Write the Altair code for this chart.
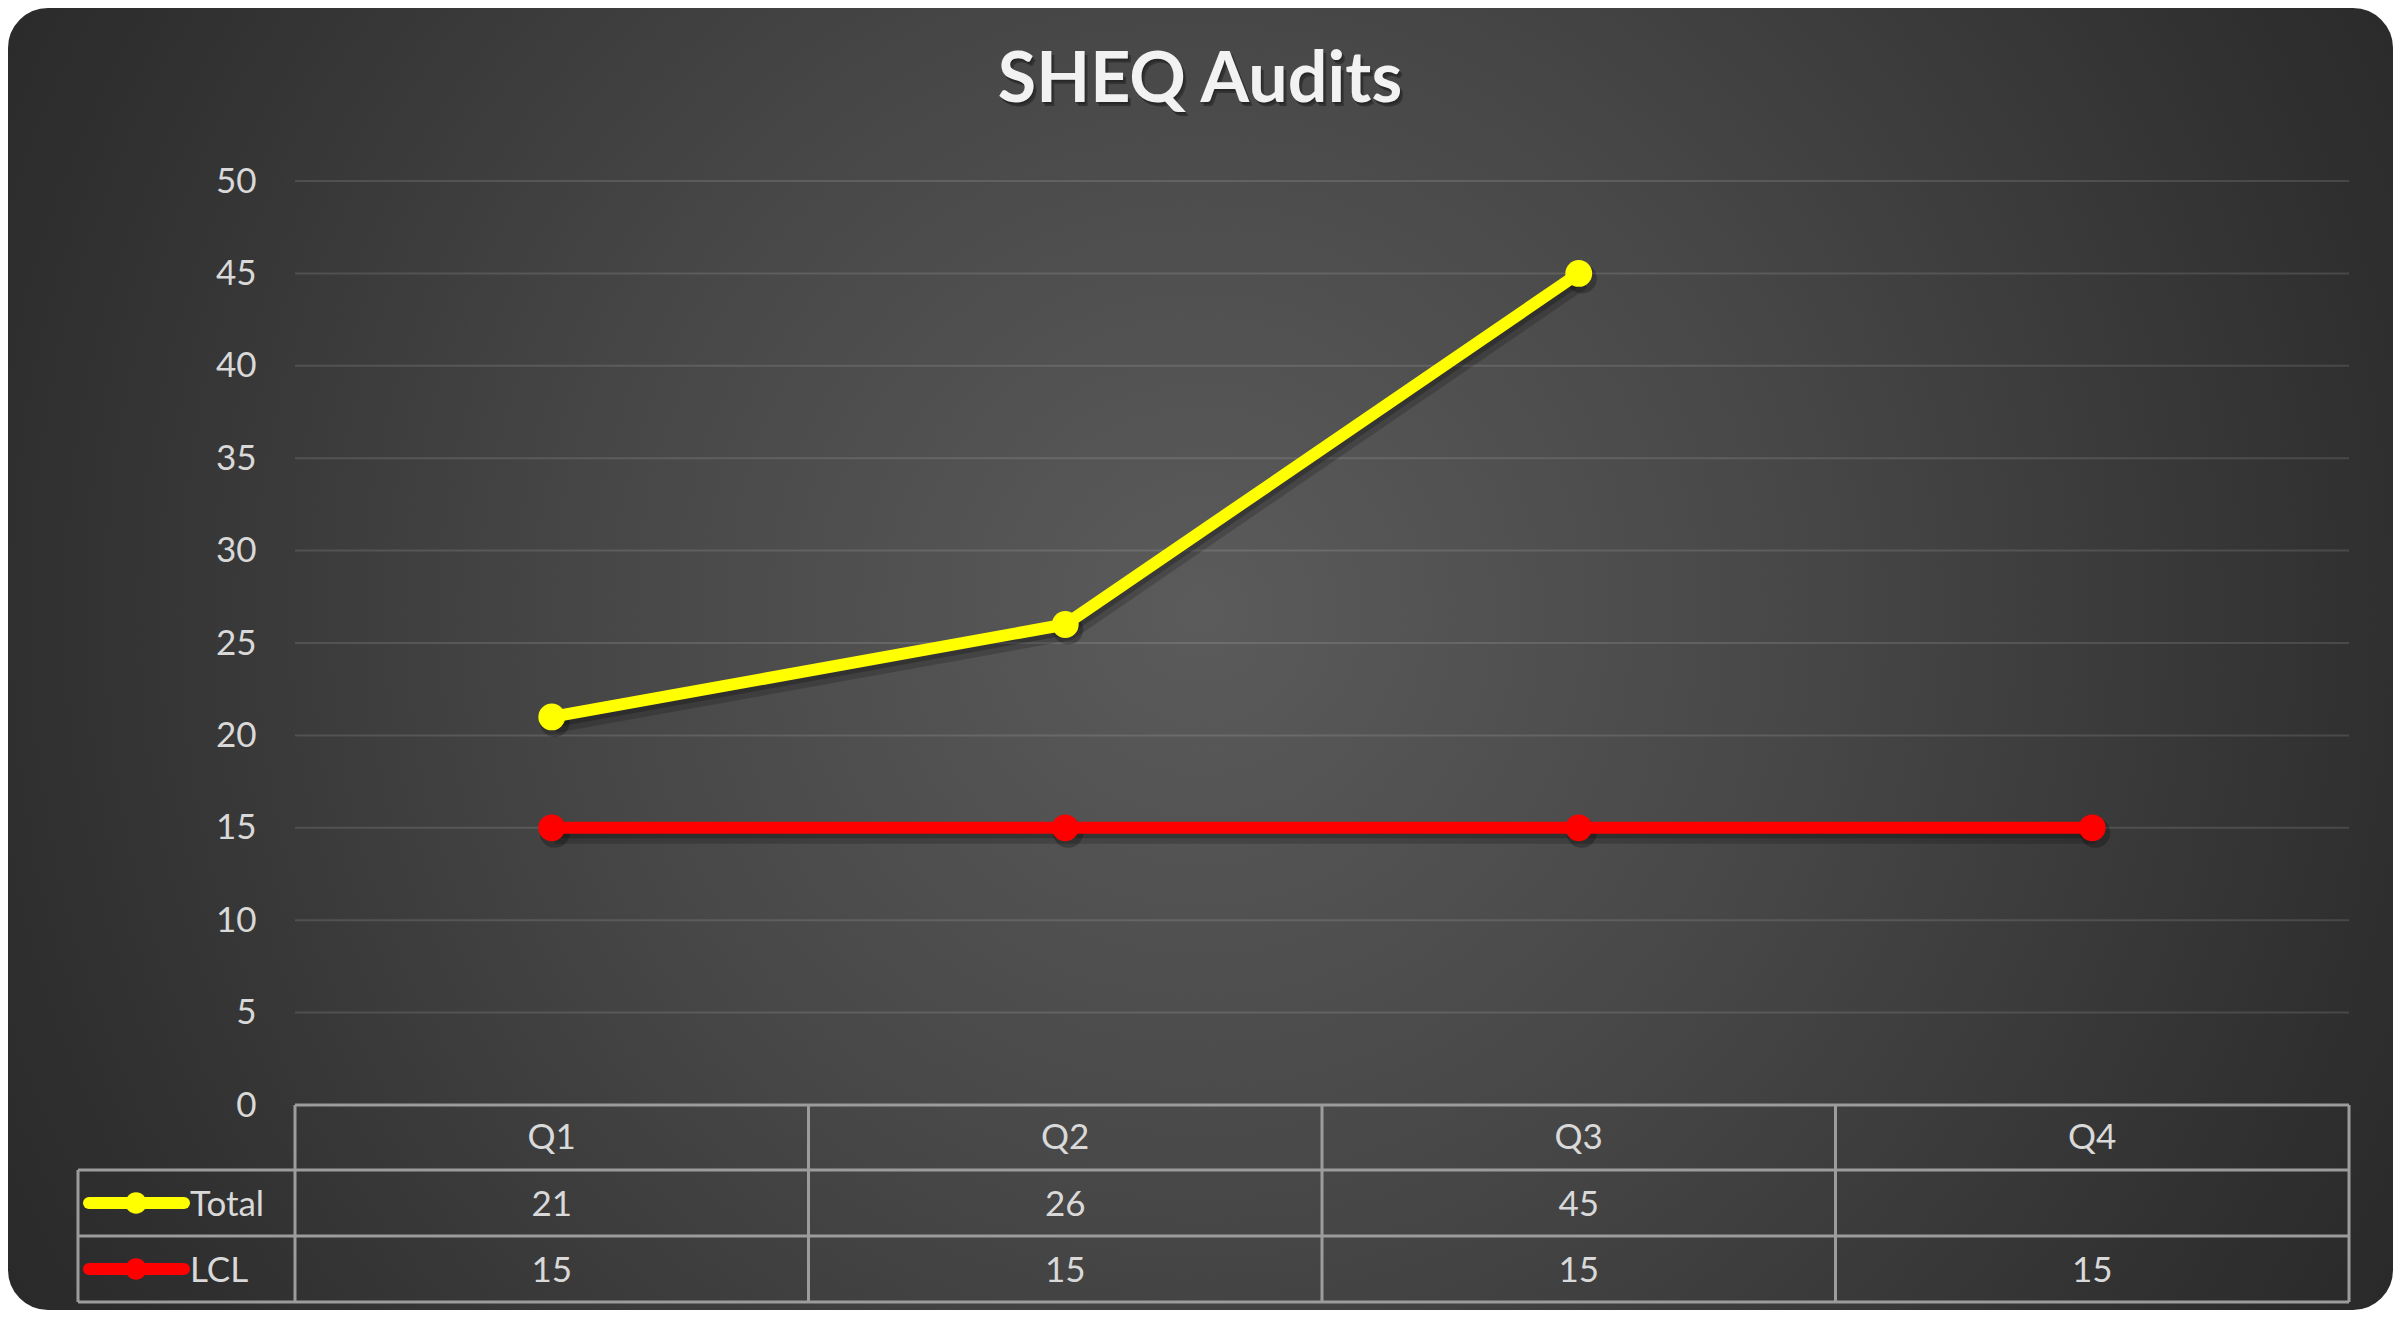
import altair as alt
import pandas as pd

# ---------------- data ----------------
quarters = ["Q1", "Q2", "Q3", "Q4"]
total_values = [21, 26, 45, None]
lcl_values = [15, 15, 15, 15]
series_names = ["Total", "LCL"]
series_colors = ["#FFFF00", "#FF0000"]
y_ticks = [0, 5, 10, 15, 20, 25, 30, 35, 40, 45, 50]
title_text = "SHEQ Audits"

# ---------------- layout ----------------
W, H = 2054, 924
PL, PT, PR, PB = 287, 173, 44, 205
TXT = "#d9d9d9"
LINE_C = "#9c9c9c"
FONT = "Lato"
FS = 35

rows = []
for q, t, l in zip(quarters, total_values, lcl_values):
    if t is not None:
        rows.append({"quarter": q, "series": "Total", "value": t})
    rows.append({"quarter": q, "series": "LCL", "value": l})
df = pd.DataFrame(rows)

one = pd.DataFrame({"k": [0]})
xs = alt.Scale(type="point", domain=quarters, padding=0.5)
ys = alt.Scale(domain=[0, 50], nice=False, zero=True)
yaxis = alt.Axis(values=y_ticks, grid=False, domain=False, ticks=False,
                 labelFontSize=FS, labelColor=TXT, labelFont=FONT,
                 labelPadding=39, zindex=1, title=None)
X = alt.X("quarter:N", scale=xs, axis=None, sort=quarters)
Y = alt.Y("value:Q", scale=ys, axis=yaxis)
color = alt.Color("series:N", scale=alt.Scale(domain=series_names, range=series_colors), legend=None)

# background (square so the radial gradient is circular; clipped by the svg)
side = W + PL + PR
svg_h = H + PT + PB
cy = svg_h / 2
grad = {
    "gradient": "radial",
    "x1": 0.5, "y1": 0.48, "r1": 0,
    "x2": 0.5, "y2": 0.48, "r2": 0.6,
    "stops": [
        {"offset": 0.0, "color": "#5b5b5b"},
        {"offset": 0.42, "color": "#474747"},
        {"offset": 0.84, "color": "#2f2f2f"},
        {"offset": 1.0, "color": "#282828"},
    ],
}
bg = alt.Chart(one).mark_rect(fill=grad).encode(
    x=alt.value(-PL), x2=alt.value(W + PR),
    y=alt.value(cy - side / 2 - PT), y2=alt.value(cy + side / 2 - PT),
)
corners = alt.Chart(one).mark_rect(fillOpacity=0, stroke="white", strokeWidth=40, cornerRadius=60).encode(
    x=alt.value(-PL - 20), x2=alt.value(W + PR + 20),
    y=alt.value(-PT - 20), y2=alt.value(H + PB + 20),
)

grid = alt.Chart(pd.DataFrame({"value": y_ticks[1:]})).mark_rule(
    color="white", opacity=0.12, strokeWidth=2
).encode(y=Y, x=alt.value(0), x2=alt.value(W))

# title with soft shadow
title_kw = dict(text=title_text, font=FONT, fontSize=70, fontWeight="bold",
                align="center", baseline="middle")
title_shadow = alt.Chart(one).mark_text(color="black", opacity=0.3, **title_kw).encode(
    x=alt.value(905 + 3), y=alt.value(-100 + 4))
title_shadow2 = alt.Chart(one).mark_text(color="black", opacity=0.2, **title_kw).encode(
    x=alt.value(905 + 1), y=alt.value(-100 + 2))
title = alt.Chart(one).mark_text(color="#f2f2f2", **title_kw).encode(
    x=alt.value(905), y=alt.value(-100))

# series lines
base = alt.Chart(df)
shadow_line = base.mark_line(color="black", opacity=0.18, strokeWidth=20, xOffset=3, yOffset=6,
                             strokeJoin="round").encode(x=X, y=Y, detail="series:N")
shadow_line2 = base.mark_line(color="black", opacity=0.22, strokeWidth=13, xOffset=2, yOffset=4,
                              strokeJoin="round").encode(x=X, y=Y, detail="series:N")
shadow_pts = base.mark_circle(color="black", opacity=0.25, size=900, xOffset=3, yOffset=5).encode(x=X, y=Y)
lines = base.mark_line(strokeWidth=12, strokeJoin="round").encode(x=X, y=Y, color=color)
pts = base.mark_circle(size=720, opacity=1).encode(x=X, y=Y, color=color)

# data table
r1, r2, r3 = 989, 1055, 1121  # row bottoms (px)
leg_left = -217
rule_kw = dict(color=LINE_C, strokeWidth=3)
hlines = [
    alt.Chart(one).mark_rule(**rule_kw).encode(x=alt.value(0), x2=alt.value(W), y=alt.value(H)),
    alt.Chart(one).mark_rule(**rule_kw).encode(x=alt.value(leg_left), x2=alt.value(W), y=alt.value(r1)),
    alt.Chart(one).mark_rule(**rule_kw).encode(x=alt.value(leg_left), x2=alt.value(W), y=alt.value(r2)),
    alt.Chart(one).mark_rule(**rule_kw).encode(x=alt.value(leg_left), x2=alt.value(W), y=alt.value(r3)),
]
vlines = [
    alt.Chart(pd.DataFrame({"quarter": quarters})).mark_rule(xOffset=-W / 8, **rule_kw).encode(
        x=X, y=alt.value(H), y2=alt.value(r3)),
    alt.Chart(one).mark_rule(**rule_kw).encode(x=alt.value(W), y=alt.value(H), y2=alt.value(r3)),
    alt.Chart(one).mark_rule(**rule_kw).encode(x=alt.value(leg_left), y=alt.value(r1), y2=alt.value(r3)),
]

txt_kw = dict(font=FONT, fontSize=FS, color=TXT, align="center", baseline="middle")
q_text = alt.Chart(pd.DataFrame({"quarter": quarters})).mark_text(**txt_kw).encode(
    x=X, y=alt.value((H + r1) / 2), text="quarter:N")
row_y = {"Total": (r1 + r2) / 2, "LCL": (r2 + r3) / 2}
row_texts = []
legend_marks = []
for name, col in zip(series_names, series_colors):
    sub = df[df["series"] == name]
    row_texts.append(
        alt.Chart(sub).mark_text(**txt_kw).encode(x=X, y=alt.value(row_y[name] + 2), text="value:Q")
    )
    legend_marks.append(
        alt.Chart(one).mark_rule(color=col, strokeWidth=12, strokeCap="round").encode(
            x=alt.value(-206), x2=alt.value(-111), y=alt.value(row_y[name]))
    )
    legend_marks.append(
        alt.Chart(one).mark_circle(color=col, size=460, opacity=1).encode(
            x=alt.value(-159), y=alt.value(row_y[name]))
    )
    legend_marks.append(
        alt.Chart(one).mark_text(text=name, font=FONT, fontSize=FS, color=TXT, align="left",
                                 baseline="middle").encode(x=alt.value(-105), y=alt.value(row_y[name] + 2))
    )

chart = alt.layer(
    bg, corners, grid, title_shadow, title_shadow2, title,
    *hlines, *vlines, q_text, *row_texts, *legend_marks,
    shadow_line, shadow_line2, shadow_pts, lines, pts,
).properties(
    width=W, height=H,
    autosize=alt.AutoSizeParams(type="none"),
    padding={"left": PL, "top": PT, "right": PR, "bottom": PB},
    background="white",
).configure_view(stroke="transparent")

chart.save("out.html", embed_options={"renderer": "svg", "actions": False})
